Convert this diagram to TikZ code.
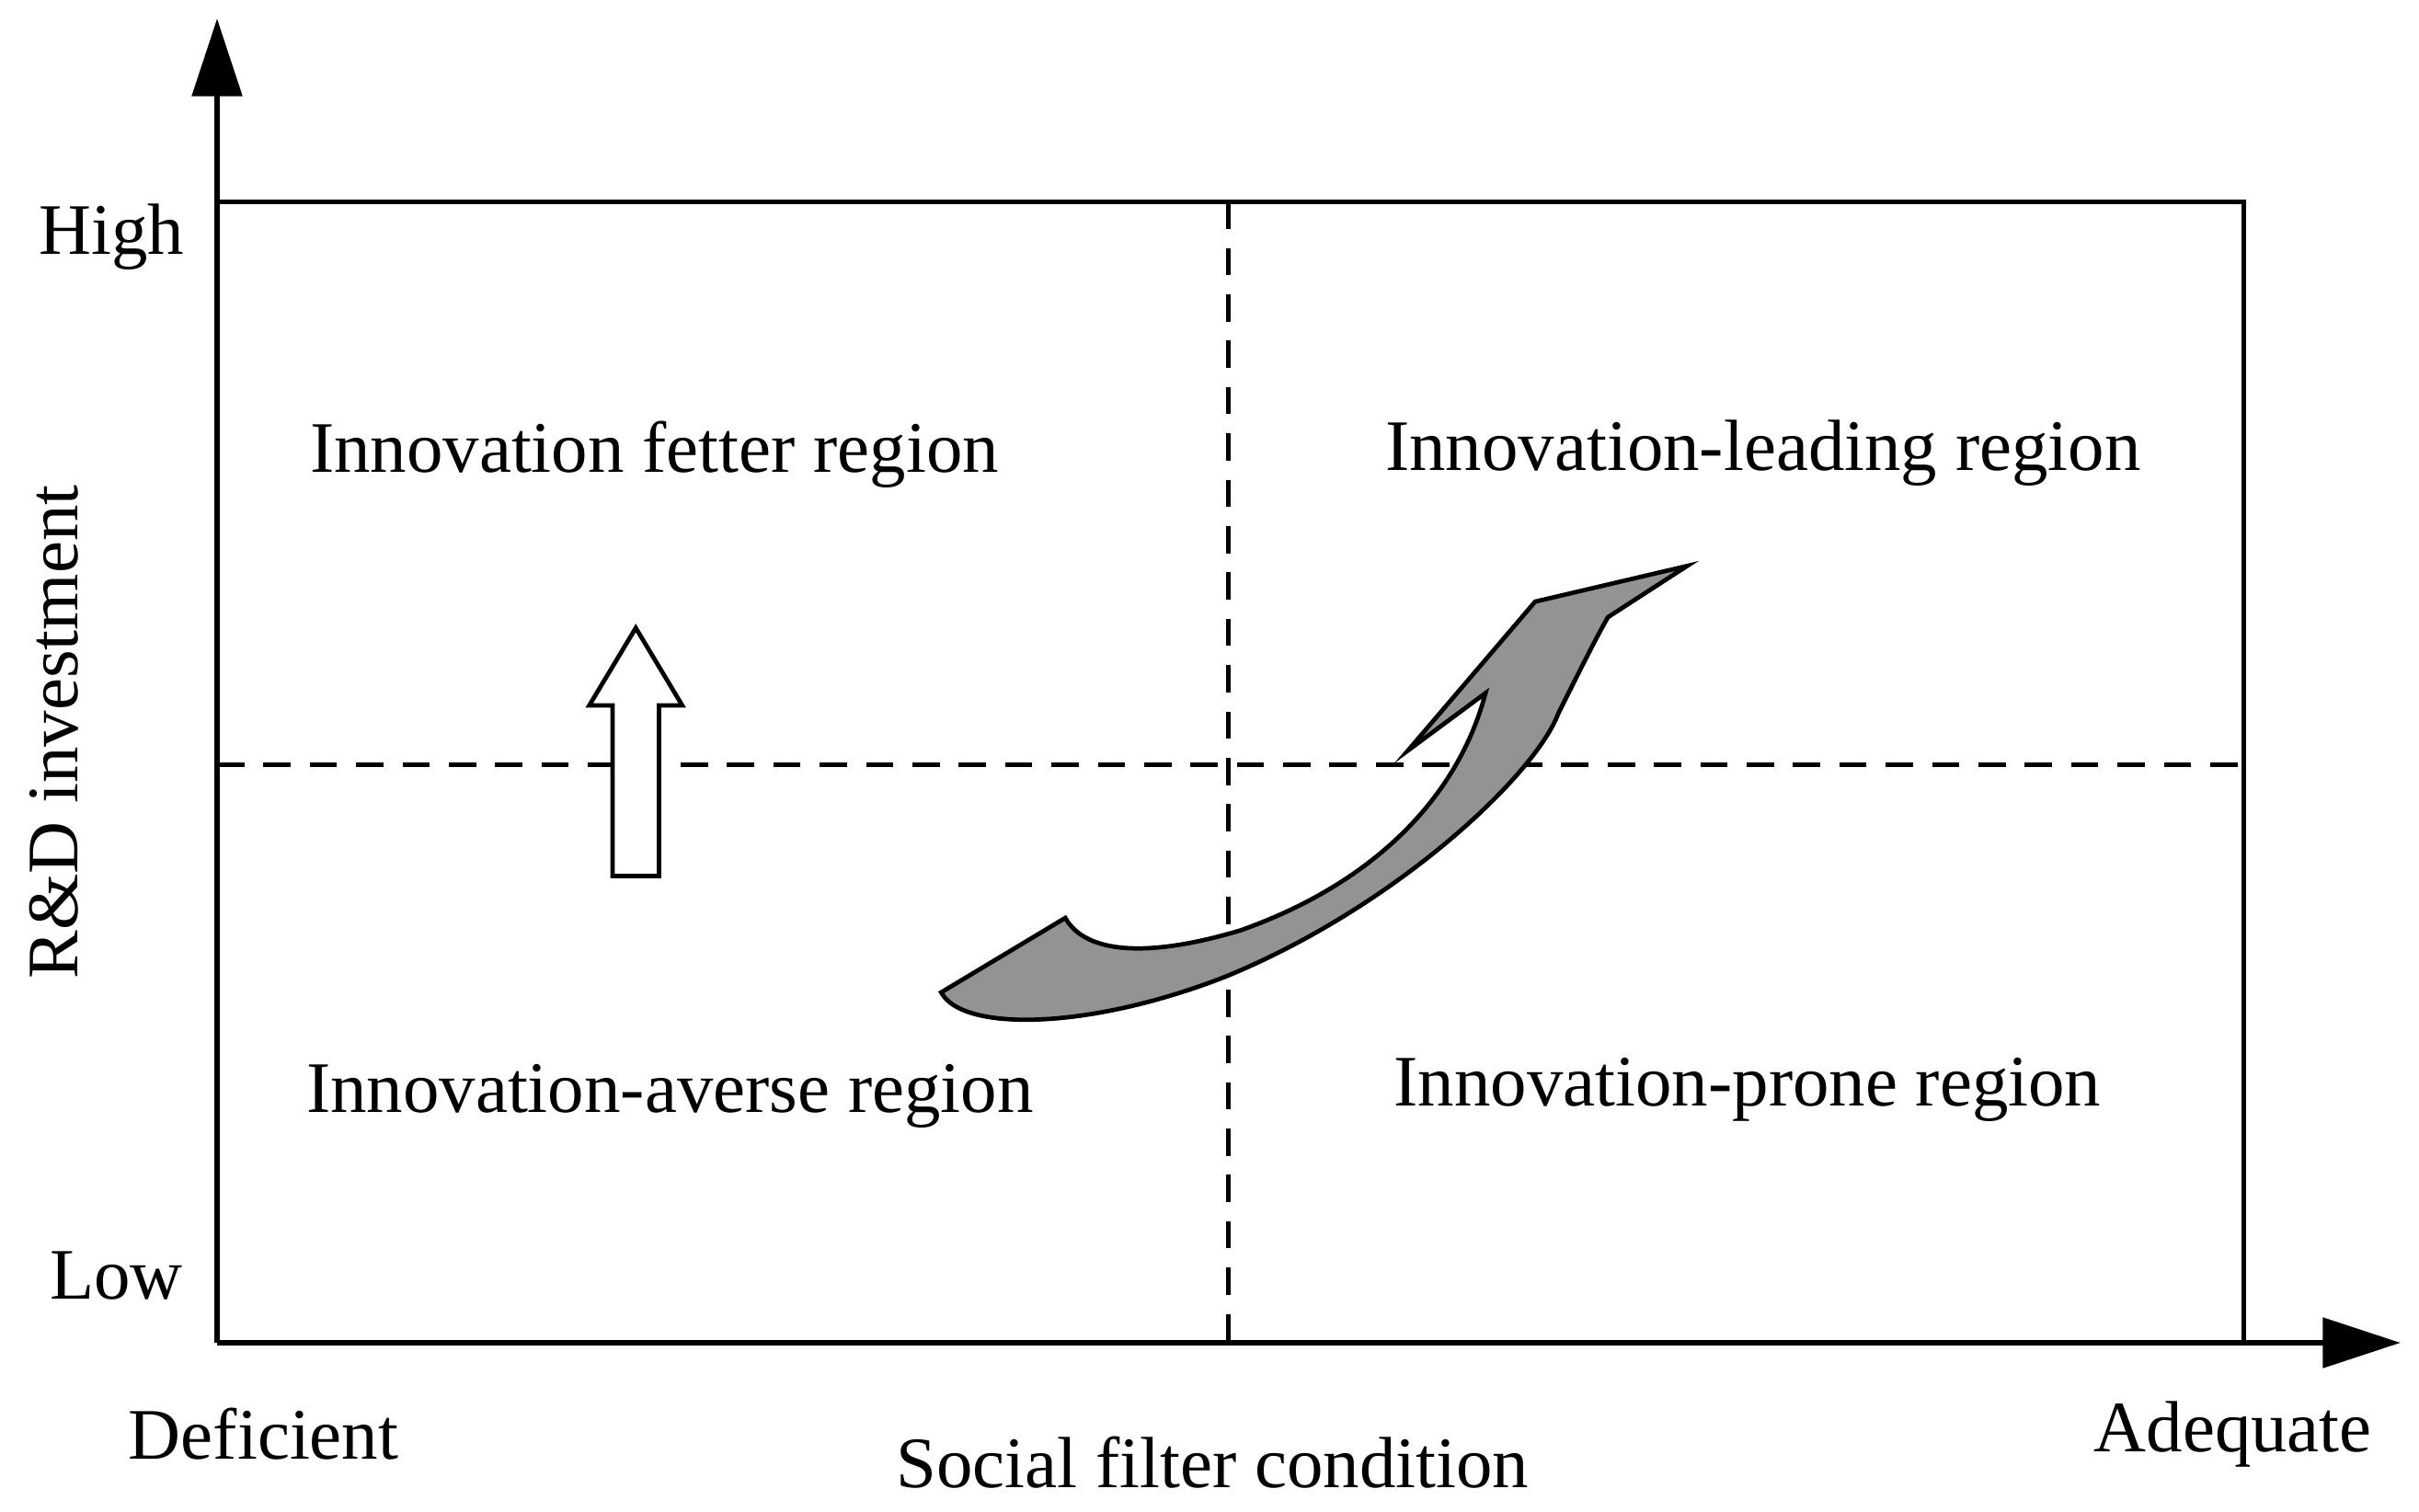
\documentclass[tikz,border=0pt]{standalone}
\usepackage{fontspec}
\setmainfont{Liberation Serif}
\usetikzlibrary{arrows.meta}
\begin{document}
\begin{tikzpicture}[x=0.01cm,y=-0.01cm,
  lbl/.style={font=\fontsize{13.3}{15}\selectfont},
  ax/.style={line width=0.9pt,-{Triangle[length=0.5cm,width=0.32cm]}},
  dsh/.style={line width=0.8pt,dash pattern=on 5pt off 3.5pt}]
\useasboundingbox (0,0) rectangle (1560,975);
\coordinate (O) at (140,866);
\coordinate (Y) at (140,12);
\coordinate (X) at (1548,866);
\draw[ax] (O) -- (Y);
\draw[ax] (O) -- (X);
\draw[line width=0.9pt] (140,130) -- (1447,130) -- (1447,866);
\draw[dsh] (792,130) -- (792,866);
\draw[dsh] (140,493) -- (1447,493);
\node[lbl] (hi) at (72,153) {High};
\node[lbl] (lo) at (75,823) {Low};
\node[lbl] (de) at (170,925) {Deficient};
\node[lbl] (ad) at (1440,925) {Adequate};
\node[lbl] (sf) at (782,943) {Social filter condition};
\node[lbl,rotate=90] (rd) at (35,472) {R\&D investment};
\node[lbl] (r1) at (422,293) {Innovation fetter region};
\node[lbl] (r2) at (1137,292) {Innovation-leading region};
\node[lbl] (r3) at (432,707) {Innovation-averse region};
\node[lbl] (r4) at (1127,703) {Innovation-prone region};
\draw[line width=0.8pt,fill=white] (395,565) -- (395,455) -- (380,455) -- (410,405) -- (440,455) -- (425,455) -- (425,565) -- cycle;
\draw[line width=0.8pt,fill=gray!85] (607,640) .. controls (620,665) and (700,665) .. (790,630)
  .. controls (900,585) and (990,500) .. (1005,460)
  .. controls (1020,430) and (1030,410) .. (1037,398)
  -- (1088,365) -- (990,388) -- (908,484) -- (958,447)
  .. controls (940,515) and (885,570) .. (800,600)
  .. controls (740,618) and (700,615) .. (687,592) -- cycle;
\end{tikzpicture}
\end{document}
